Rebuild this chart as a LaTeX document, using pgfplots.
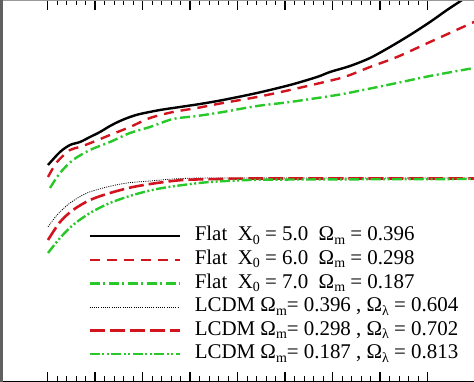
\documentclass[border=0pt]{standalone}
\usepackage{pgfplots}
\pgfplotsset{compat=1.18}
\usepackage{fontspec}
\setmainfont{Liberation Serif}
\definecolor{redc}{RGB}{210,20,30}
\definecolor{greenc}{RGB}{40,200,40}
\newcommand{\sub}[1]{\raisebox{-0.35ex}{\fontsize{14}{14}\selectfont #1}}
\begin{document}
\begin{tikzpicture}
\begin{axis}[
  name=ax,
  scale only axis, width=474bp, height=382bp,
  xmin=0, xmax=474, ymin=0, ymax=382,
  axis line style={draw=none},
  xtick={47.5,95,142.5,190,237.5,285,332.5,380,427.5},
  xticklabels={},
  minor x tick num=4,
  ytick=\empty,
  tick align=inside,
  major tick length=10bp, minor tick length=5.5bp,
  every major tick/.append style={line width=1.8bp, black},
  every minor tick/.append style={line width=0.8bp, black},
  clip=true,
  legend cell align=left,
  legend image code/.code={\draw[#1] (0bp,0bp) -- (90bp,0bp); \path (104bp,0bp);},
  legend style={draw=none, fill=none, inner sep=0pt, row sep=0pt,
    at={(axis cs:88,157.8)}, anchor=north west,
    font=\fontsize{21}{21}\selectfont,
    nodes={inner xsep=0pt, inner ysep=0pt, text height=16.5bp, text depth=7.1bp}},
]
% Flat X0=5.0
\addplot[black, line width=2.4bp, smooth] coordinates {
(48,217)(60,230)(70,237)(80,240)(90,245)(100,250)(110,256)(120,261)(130,265)(140,268)(160,272)(180,275)(200,278)(223,282)(257,289)(290,297)(317,305)(330,310)(350,316)(370,324)(390,335)(410,347)(430,360)(447,372)(462,382)(472,390)};
\addlegendentry{Flat\ \ X\sub{0} = 5.0\ \ Ω\sub{m} = 0.396}
% Flat X0=6.0
\addplot[redc, line width=2.4bp, smooth, dash pattern=on 10bp off 7bp] coordinates {
(48,205)(57,220)(70,232)(80,235)(93,240)(110,247)(130,255)(150,264)(173,270)(197,274)(223,279)(257,285)(290,292)(337,303)(350,307)(370,315)(397,325)(430,340)(474,360)};
\addlegendentry{Flat\ \ X\sub{0} = 6.0\ \ Ω\sub{m} = 0.298}
% Flat X0=7.0
\addplot[greenc, line width=2.4bp, smooth, dash pattern=on 10bp off 3.5bp on 2bp off 3.5bp] coordinates {
(50,194)(60,209)(73,222)(90,232)(110,240)(130,249)(150,255)(173,263)(197,266)(223,270)(257,276)(290,280)(337,287)(363,292)(397,299)(430,306)(474,314)};
\addlegendentry{Flat\ \ X\sub{0} = 7.0\ \ Ω\sub{m} = 0.187}
% LCDM 0.396
\addplot[black, line width=0.8bp, smooth, dash pattern=on 1bp off 1.2bp] coordinates {
(48,155)(57,167)(70,179)(87,189)(107,195)(127,199)(150,201)(173,203)(200,204)(250,204)(474,204)};
\addlegendentry{LCDM Ω\sub{m}= 0.396 , Ω\sub{λ} = 0.604}
% LCDM 0.298
\addplot[redc, line width=2.6bp, smooth, dash pattern=on 15bp off 5bp] coordinates {
(48,142)(60,160)(73,172)(90,182)(110,189)(133,195)(157,199)(183,202)(220,203)(260,203.5)(474,203.5)};
\addlegendentry{LCDM Ω\sub{m}= 0.298 , Ω\sub{λ} = 0.702}
% LCDM 0.187
\addplot[greenc, line width=2.4bp, smooth, dash pattern=on 10bp off 2.5bp on 2bp off 2.5bp on 2bp off 2.5bp] coordinates {
(48,129)(60,144)(73,157)(90,169)(110,179)(133,187)(157,193)(183,197)(210,200)(250,202)(300,202.5)(474,203)};
\addlegendentry{LCDM Ω\sub{m}= 0.187 , Ω\sub{λ} = 0.813}
\draw[black, line width=1.5bp] (rel axis cs:0,0) ++(0,0.75bp) -- ([yshift=0.75bp]rel axis cs:1,0);
\draw[gray!80, line width=0.8bp] (rel axis cs:0,1) ++(0,-0.4bp) -- ([yshift=-0.4bp]rel axis cs:1,1);
\draw[gray!75!black, line width=2.5bp] ([xshift=1.25bp]rel axis cs:0,0) -- ([xshift=1.25bp]rel axis cs:0,1);
\end{axis}
\pgfresetboundingbox
\useasboundingbox (ax.south west) rectangle (ax.north east);
\end{tikzpicture}
\end{document}
